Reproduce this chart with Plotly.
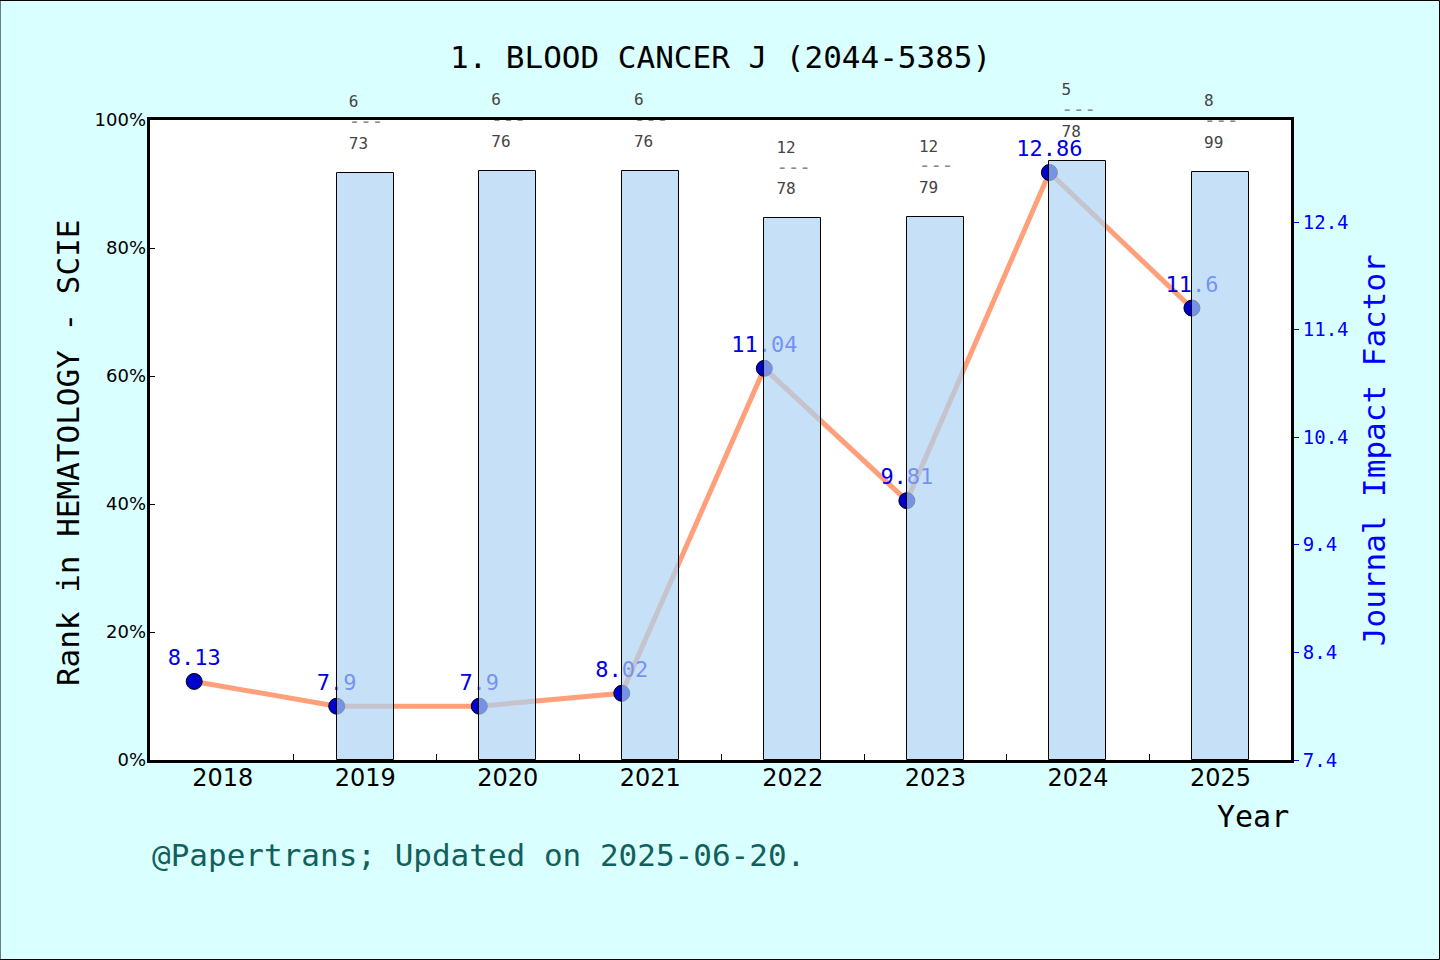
import plotly.graph_objects as go

# ---- data ----
years = [2018, 2019, 2020, 2021, 2022, 2023, 2024, 2025]
impact_factor = [8.13, 7.9, 7.9, 8.02, 11.04, 9.81, 12.86, 11.6]
if_labels = ["8.13", "7.9", "7.9", "8.02", "11.04", "9.81", "12.86", "11.6"]

rank_years = [2019, 2020, 2021, 2022, 2023, 2024, 2025]
rank = [6, 6, 6, 12, 12, 5, 8]
total = [73, 76, 76, 78, 79, 78, 99]
rank_pct = [1 - r / t for r, t in zip(rank, total)]

left_ticks = [0, 0.2, 0.4, 0.6, 0.8, 1.0]
right_ticks = [7.4, 8.4, 9.4, 10.4, 11.4, 12.4]

BG = "rgb(217,255,255)"
MONO = "DejaVu Sans Mono"
SANS = "DejaVu Sans"

PLOT_H = 640.0  # plot-area height in px (used to convert a label gap to axis units)
LABEL_GAP_PX = 20

fig = go.Figure()

# Impact-factor line on primary axis (drawn underneath the bars)
fig.add_trace(go.Scatter(
    x=years, y=impact_factor, mode="lines+markers+text",
    text=if_labels, textposition="top center",
    textfont=dict(family=MONO, size=22, color="#0000E6"),
    line=dict(color="#FFA07A", width=5),
    marker=dict(size=16, color="#0000CD", line=dict(color="black", width=1)),
    cliponaxis=False, yaxis="y", showlegend=False,
))

# Rank bars on overlaying axis (drawn above the line)
fig.add_trace(go.Bar(
    x=rank_years, y=rank_pct, width=0.4, offset=0,
    marker=dict(color="rgba(171,210,243,0.69)", line=dict(color="black", width=1)),
    yaxis="y2", showlegend=False,
))

# Rank fraction labels above each bar (drawn beneath the axis frame)
fig.add_trace(go.Scatter(
    x=[y + 0.085 for y in rank_years],
    y=[p + LABEL_GAP_PX / PLOT_H for p in rank_pct],
    mode="text", textposition="top right",
    text=[f"{r}<br><span style='color:#8a8a8a;font-size:19px'>---</span><br>{t}"
          for r, t in zip(rank, total)],
    textfont=dict(family=MONO, size=16, color="#444444"),
    cliponaxis=False, yaxis="y2", showlegend=False, hoverinfo="skip",
))

annotations = [
    dict(text="Rank in HEMATOLOGY - SCIE", xref="paper", yref="paper",
         x=-0.0719, y=0.481, xanchor="center", yanchor="middle", textangle=-90,
         showarrow=False, font=dict(family=MONO, size=31, color="black")),
    dict(text="Journal Impact Factor", xref="paper", yref="paper",
         x=1.0727, y=0.484, xanchor="center", yanchor="middle", textangle=-90,
         showarrow=False, font=dict(family=MONO, size=31, color="blue")),
    dict(text="Year", xref="paper", yref="paper", x=1.0, y=-0.089,
         xanchor="right", yanchor="middle", showarrow=False,
         font=dict(family=MONO, size=30, color="black")),
    dict(text="@Papertrans; Updated on 2025-06-20.", xref="paper", yref="paper",
         x=0.0, y=-0.148, xanchor="left", yanchor="middle", showarrow=False,
         font=dict(family=MONO, size=31, color="#11605B")),
]

fig.update_layout(
    width=1440, height=960,
    paper_bgcolor=BG, plot_bgcolor="white",
    margin=dict(l=150, r=149, t=120, b=200),
    title=dict(text="1. BLOOD CANCER J (2044-5385)", x=0.5, xref="paper",
               y=1 - 57 / 960, yref="container", yanchor="middle", xanchor="center",
               font=dict(family=MONO, size=31, color="black")),
    xaxis=dict(
        range=[2017.69, 2025.695], showgrid=False, zeroline=False,
        tickmode="array", tickvals=[y + 0.2 for y in years], ticktext=[str(y) for y in years],
        ticks="", ticklabelstandoff=-6, tickfont=dict(family=SANS, size=24, color="black"),
        minor=dict(tickmode="array", tickvals=[y + 0.7 for y in years[:-1]],
                   ticks="inside", ticklen=6, tickcolor="black", tickwidth=1),
        showline=True, linecolor="black", linewidth=3, mirror=True,
    ),
    yaxis=dict(
        range=[7.4, 13.348], side="right", showgrid=False, zeroline=False,
        tickmode="array", tickvals=right_ticks, tickformat=".1f",
        ticks="outside", ticklen=5, tickcolor="blue", tickwidth=1,
        tickfont=dict(family=MONO, size=19, color="blue"),
        showline=True, linecolor="black", linewidth=3, mirror=True,
    ),
    yaxis2=dict(
        range=[0, 1], overlaying="y", side="left", showgrid=False, zeroline=False,
        tickmode="array", tickvals=left_ticks, tickformat=".0%",
        ticks="inside", ticklen=5, tickcolor="black", tickwidth=1, ticklabelstandoff=3,
        tickfont=dict(family=SANS, size=18, color="black"),
        showline=False,
    ),
    annotations=annotations,
    shapes=[dict(type="rect", xref="paper", yref="paper",
                 x0=-150 / 1141, x1=1289.5 / 1141, y0=-199.5 / 640, y1=759.5 / 640,
                 line=dict(color="black", width=1), fillcolor="rgba(0,0,0,0)", layer="below")],
    bargap=0,
)

fig.write_html("out.html")
